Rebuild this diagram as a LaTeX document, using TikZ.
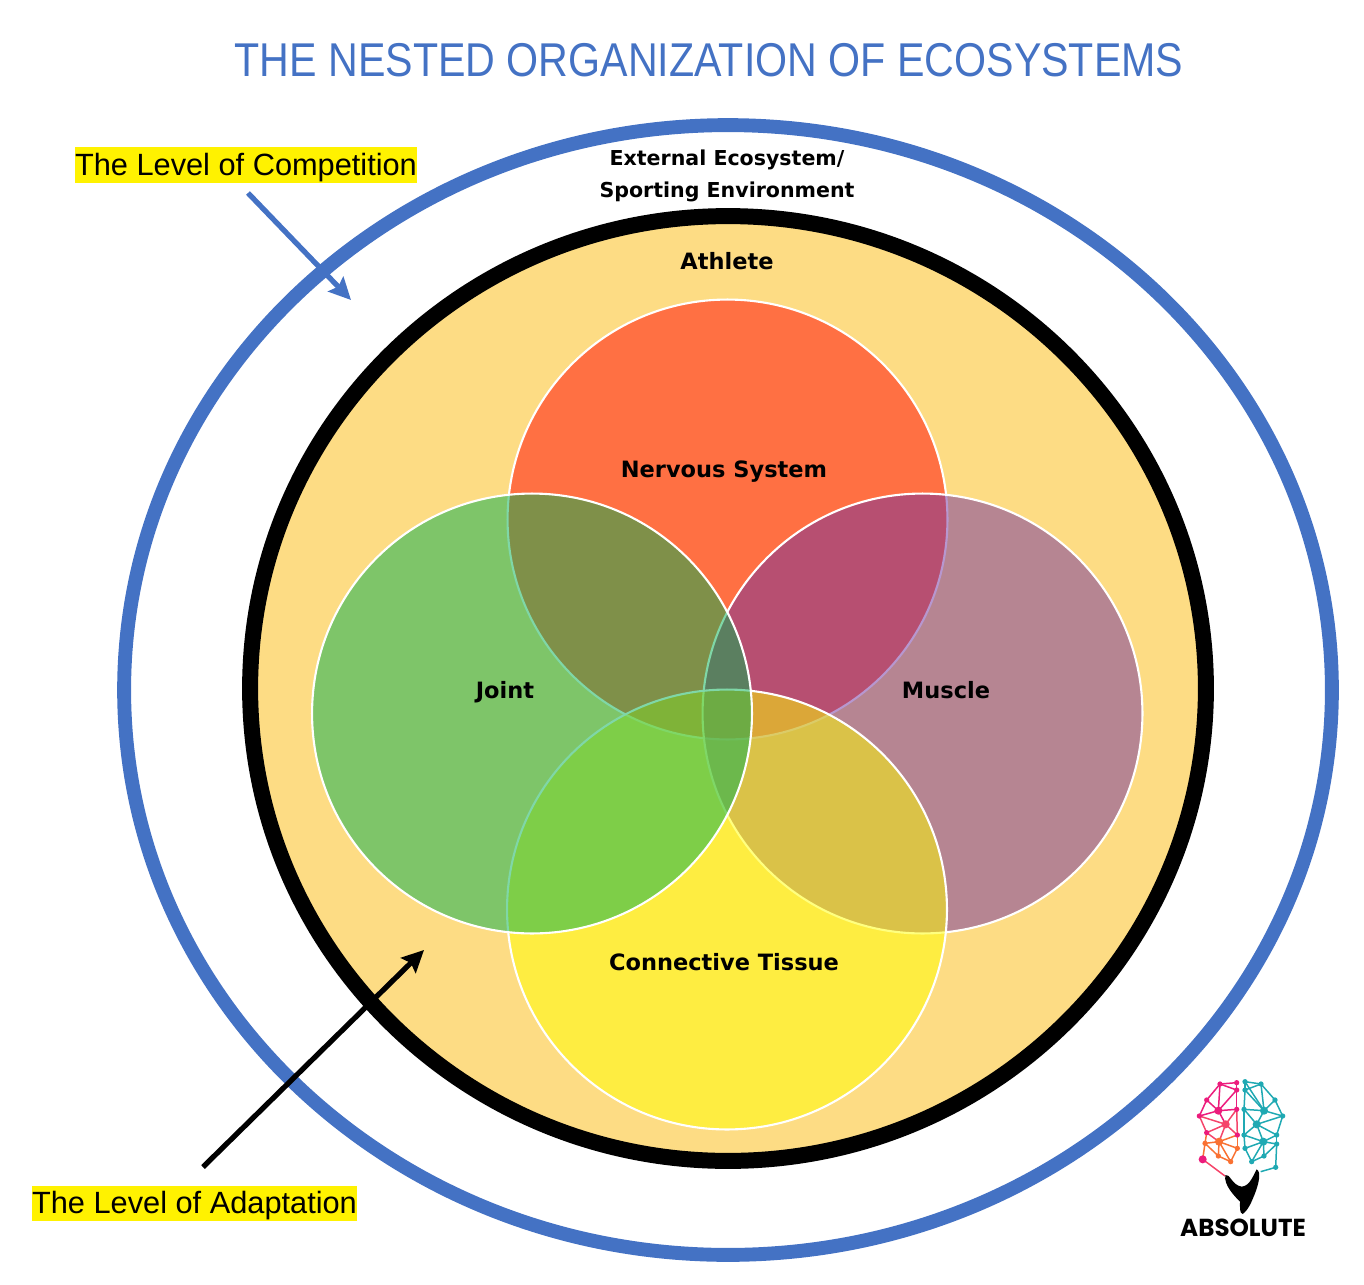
\documentclass[tikz,border=0pt]{standalone}
\usepackage{fontspec}
\usepackage{graphicx}
\setmainfont{Liberation Sans}
\newfontfamily\labelfont{DejaVu Sans}
\newfontfamily\logofont{Poppins}
\usetikzlibrary{shapes.geometric,arrows.meta}
\definecolor{ringblue}{HTML}{4472C4}
\definecolor{athletefill}{HTML}{FDDC84}
\definecolor{nervefill}{HTML}{FF7043}
\definecolor{jointfill}{HTML}{00B050}
\definecolor{musclefill}{HTML}{7030A0}
\definecolor{tissuefill}{HTML}{FFFF00}
\definecolor{brainpink}{HTML}{EC1C7C}
\definecolor{braincoral}{HTML}{F5456A}
\definecolor{brainorange}{HTML}{F97132}
\definecolor{brainteal}{HTML}{1FA9B3}

\begin{document}
\begin{tikzpicture}[
    x=0.02cm, y=-0.02cm,
    ring/.style={ellipse, draw, inner sep=0pt},
    organ/.style={circle, draw=white, line width=1.2pt, inner sep=0pt, minimum size=8.8cm, fill opacity=0.5},
    inlabel/.style={font=\labelfont\bfseries\fontsize{12.8}{15}\selectfont, inner sep=0pt},
    outlabel/.style={font=\labelfont\bfseries\fontsize{11.7}{14}\selectfont, inner sep=0pt},
    levellabel/.style={fill=yellow, inner sep=0pt, font=\fontsize{17.5}{20}\selectfont, text height=16pt, text depth=4.4pt},
    levelarrow/.style={-{Stealth[length=12.5pt, width=12pt, inset=2pt]}, line width=3pt},
    edge/.style={line width=0.85pt},
    dot/.style={circle, inner sep=0pt, minimum size=3pt}
]
    \useasboundingbox (0,0) rectangle (1364,1284);

    % Title
    \node[text=ringblue, inner sep=0pt] (title) at (709,60) {\scalebox{0.868}[1]{\fontsize{27}{32}\selectfont THE NESTED ORGANIZATION OF ECOSYSTEMS}};

    % Environment and athlete
    \node[ring, draw=ringblue, line width=7.9pt, minimum width=24.16cm, minimum height=22.6cm] (ecosystem) at (728,690) {};
    \node[ring, draw=black, fill=athletefill, line width=9.1pt, minimum width=19.12cm, minimum height=18.9cm] (athlete) at (728,688.5) {};

    % Systems
    \node[organ, fill=nervefill, fill opacity=1] (nervous) at (727.5,519.5) {};
    \node[organ, fill=musclefill] (muscle) at (922.5,713.5) {};
    \node[organ, fill=tissuefill] (tissue) at (727,909.5) {};
    \node[organ, fill=jointfill] (joint) at (532,713.5) {};

    % Labels
    \node[outlabel] (extlabel) at (727,160) {External Ecosystem/};
    \node[outlabel] (sportlabel) at (727,192) {Sporting Environment};
    \node[inlabel] (athletelabel) at (727,261) {Athlete};
    \node[inlabel] (nervouslabel) at (724,472) {Nervous System};
    \node[inlabel] (jointlabel) at (505,692) {Joint};
    \node[inlabel] (musclelabel) at (946,690) {Muscle};
    \node[inlabel] (tissuelabel) at (724,962) {Connective Tissue};

    % Levels
    \node[levellabel, minimum width=6.84cm] (competition) at (246,165) {The Level of Competition};
    \node[levellabel, minimum width=6.5cm] (adaptation) at (194.5,1203.5) {The Level of Adaptation};

    \coordinate (compstart) at (248,193);
    \coordinate (comptip) at (351,300);
    \coordinate (adaptstart) at (203,1167);
    \coordinate (adapttip) at (424,950);
    \draw[levelarrow, ringblue] (compstart) -- (comptip);
    \draw[levelarrow, black] (adaptstart) -- (adapttip);

    % Logo
    \begin{scope}[shift={(1160,1060)}, x=0.00667cm, y=-0.00667cm]
        \foreach \pname/\px/\py in {a/230/68, b/180/72, c/140/120, d/175/152, e/230/148, f/118/168, g/197/193, h/140/218, i/232/225, j/135/250, k/177/245, l/232/265, m/175/288, n/212/305, o/230/90, p/128/298, q/195/348,
            A/255/65, B/303/72, C/345/120, D/312/152, E/252/148, F/368/168, G/290/193, H/350/225, I/252/225, J/310/245, K/255/265, L/350/252, M/312/288, N/275/305, O/255/90, P/347/322, Q/302/335}
            \coordinate (\pname) at (\px,\py);

        \foreach \s/\t in {a/b, b/c, c/f, b/o, b/d, c/d, d/e, d/f, d/g, o/d, a/o, o/e}
            \draw[edge, brainpink] (\s) -- (\t);
        \foreach \s/\t in {f/g, f/h, g/e, g/h, g/i, g/k, e/i, h/k, p/q}
            \draw[edge, braincoral] (\s) -- (\t);
        \foreach \s/\t in {h/j, k/i, k/l, k/j, k/m, k/n, j/m, m/n, n/l, l/i, j/p}
            \draw[edge, brainorange] (\s) -- (\t);
        \foreach \s/\t in {A/B, B/C, C/F, F/H, H/L, L/M, M/N, N/K, K/I, I/E, E/O, O/A, B/O, O/D, A/D, B/D, C/D, D/E, D/F, D/G, F/G, G/E, G/H, G/I, G/J, I/J, H/J, J/K, J/L, J/M, J/N, L/P, P/Q}
            \draw[edge, brainteal] (\s) -- (\t);

        \foreach \pname in {a,b,c,e,f,h,i,o}
            \node[dot, fill=brainpink] (dot\pname) at (\pname) {};
        \foreach \pname in {j,l,m,n}
            \node[dot, fill=brainorange] (dot\pname) at (\pname) {};
        \foreach \pname in {A,B,C,E,F,H,I,K,L,M,N,O,P}
            \node[dot, fill=brainteal] (dot\pname) at (\pname) {};
        \node[dot, fill=brainpink, minimum size=4.6pt] (bigd) at (d) {};
        \node[dot, fill=braincoral, minimum size=4.6pt] (bigg) at (g) {};
        \node[dot, fill=brainorange, minimum size=4.6pt] (bigk) at (k) {};
        \node[dot, fill=brainpink, minimum size=4.6pt] (bigp) at (p) {};
        \node[dot, fill=brainteal, minimum size=4.6pt] (bigD) at (D) {};
        \node[dot, fill=brainteal, minimum size=4.6pt] (bigG) at (G) {};
        \node[dot, fill=brainteal, minimum size=4.6pt] (bigJ) at (J) {};

        \fill[black] (196,345) .. controls (210,340) and (215,375) .. (245,380) .. controls (270,378) and (280,345) .. (290,328) .. controls (305,335) and (295,375) .. (285,400) .. controls (275,425) and (265,450) .. (248,462) .. controls (238,460) and (240,440) .. (240,425) .. controls (225,410) and (190,375) .. (196,345) -- cycle;
    \end{scope}
    \node[font=\logofont\bfseries\fontsize{14}{16}\selectfont, inner sep=0pt] (logotext) at (1243,1228) {ABSOLUTE};
\end{tikzpicture}
\end{document}
